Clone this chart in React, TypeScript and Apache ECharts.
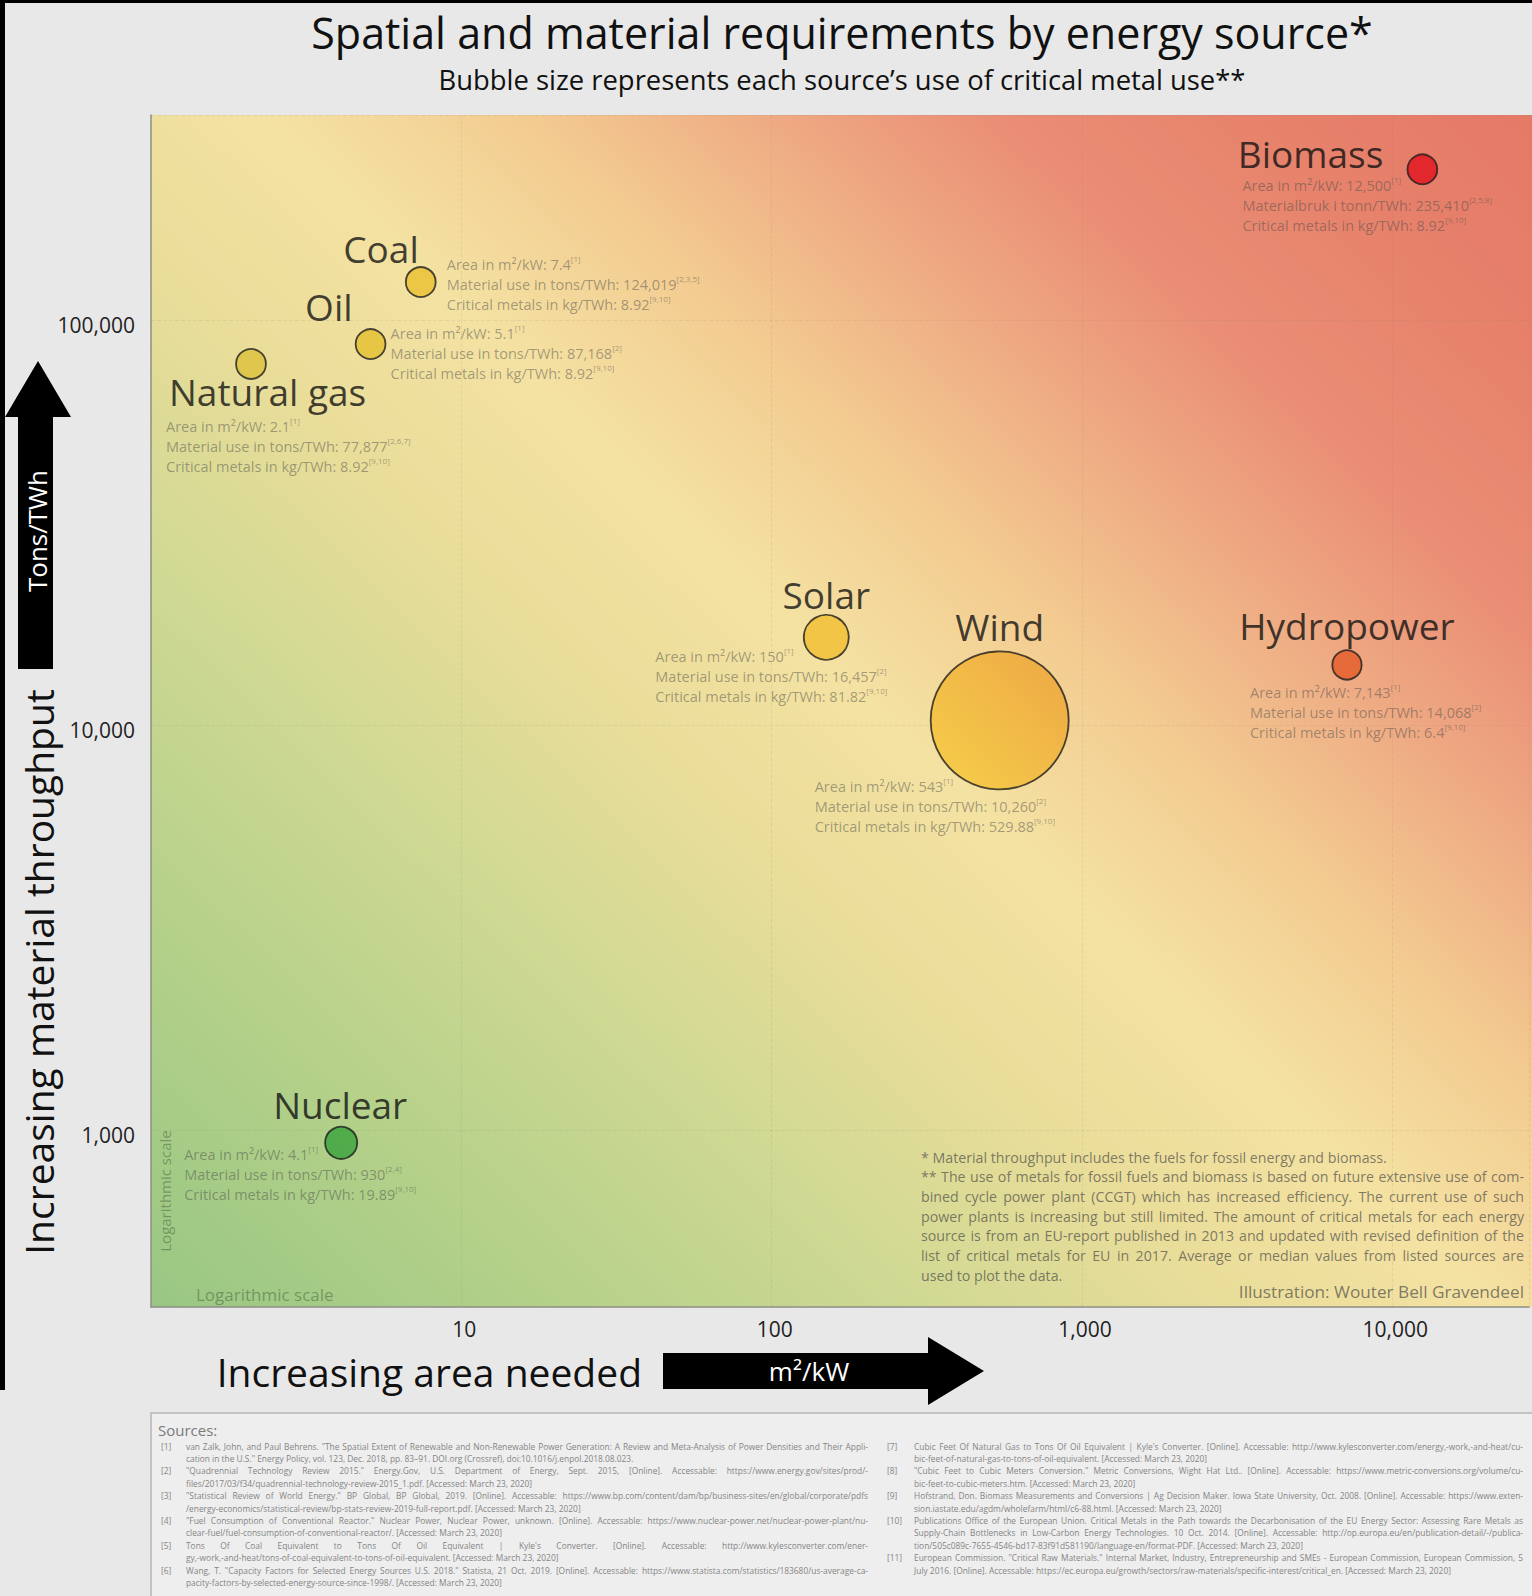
import React, { useEffect, useRef } from 'react';
import * as echarts from 'echarts';

// ---------------- data ----------------
const sourceNames = ['Biomass', 'Coal', 'Oil', 'Natural gas', 'Nuclear', 'Solar', 'Wind', 'Hydropower'];
const areaM2PerKW = [12500, 7.4, 5.1, 2.1, 4.1, 150, 543, 7143];
const materialTonsPerTWh = [235410, 124019, 87168, 77877, 930, 16457, 10260, 14068];
const criticalMetalsKgPerTWh = [8.92, 8.92, 8.92, 8.92, 19.89, 81.82, 529.88, 6.4];
const areaRefs = ['[1]', '[1]', '[1]', '[1]', '[1]', '[1]', '[1]', '[1]'];
const materialRefs = ['[2,5,8]', '[2,3,5]', '[2]', '[2,6,7]', '[2,4]', '[2]', '[2]', '[2]'];
const metalRefs = ['[9,10]', '[9,10]', '[9,10]', '[9,10]', '[9,10]', '[9,10]', '[9,10]', '[9,10]'];
const materialCaptions = [
  'Materialbruk i tonn/TWh', 'Material use in tons/TWh', 'Material use in tons/TWh', 'Material use in tons/TWh',
  'Material use in tons/TWh', 'Material use in tons/TWh', 'Material use in tons/TWh', 'Material use in tons/TWh',
];

const xTickValues = [10, 100, 1000, 10000];
const yTickValues = [1000, 10000, 100000];

const footnoteLines = [
  '* Material throughput includes the fuels for fossil energy and biomass.',
  '** The use of metals for fossil fuels and biomass is based on future extensive use of com-',
  'bined cycle power plant (CCGT) which has increased efficiency. The current use of such',
  'power plants is increasing but still limited. The amount of critical metals for each energy',
  'source is from an EU-report published in 2013 and updated with revised definition of the',
  'list of critical metals for EU in 2017. Average or median values from listed sources are',
  'used to plot the data.',
];
const footnoteJustified = [false, true, true, true, true, true, false];

const sourcesLeft: [string, string[]][] = [
  ['[1]', ['van Zalk, John, and Paul Behrens. "The Spatial Extent of Renewable and Non-Renewable Power Generation: A Review and Meta-Analysis of Power Densities and Their Appli-',
    'cation in the U.S." Energy Policy, vol. 123, Dec. 2018, pp. 83–91. DOI.org (Crossref), doi:10.1016/j.enpol.2018.08.023.']],
  ['[2]', ['"Quadrennial Technology Review 2015." Energy.Gov, U.S. Department of Energy, Sept. 2015, [Online]. Accessable: https://www.energy.gov/sites/prod/-',
    'files/2017/03/f34/quadrennial-technology-review-2015_1.pdf. [Accessed: March 23, 2020]']],
  ['[3]', ['"Statistical Review of World Energy." BP Global, BP Global, 2019. [Online]. Accessable: https://www.bp.com/content/dam/bp/business-sites/en/global/corporate/pdfs',
    '/energy-economics/statistical-review/bp-stats-review-2019-full-report.pdf. [Accessed: March 23, 2020]']],
  ['[4]', ['"Fuel Consumption of Conventional Reactor." Nuclear Power, Nuclear Power, unknown. [Online]. Accessable: https://www.nuclear-power.net/nuclear-power-plant/nu-',
    'clear-fuel/fuel-consumption-of-conventional-reactor/. [Accessed: March 23, 2020]']],
  ['[5]', ['Tons Of Coal Equivalent to Tons Of Oil Equivalent | Kyle\'s Converter. [Online]. Accessable: http://www.kylesconverter.com/ener-',
    'gy,-work,-and-heat/tons-of-coal-equivalent-to-tons-of-oil-equivalent. [Accessed: March 23, 2020]']],
  ['[6]', ['Wang, T. "Capacity Factors for Selected Energy Sources U.S. 2018." Statista, 21 Oct. 2019. [Online]. Accessable: https://www.statista.com/statistics/183680/us-average-ca-',
    'pacity-factors-by-selected-energy-source-since-1998/. [Accessed: March 23, 2020]']],
];
const sourcesRight: [string, string[]][] = [
  ['[7]', ['Cubic Feet Of Natural Gas to Tons Of Oil Equivalent | Kyle\'s Converter. [Online]. Accessable: http://www.kylesconverter.com/energy,-work,-and-heat/cu-',
    'bic-feet-of-natural-gas-to-tons-of-oil-equivalent. [Accessed: March 23, 2020]']],
  ['[8]', ['"Cubic Feet to Cubic Meters Conversion." Metric Conversions, Wight Hat Ltd.. [Online]. Accessable: https://www.metric-conversions.org/volume/cu-',
    'bic-feet-to-cubic-meters.htm. [Accessed: March 23, 2020]']],
  ['[9]', ['Hofstrand, Don. Biomass Measurements and Conversions | Ag Decision Maker. Iowa State University, Oct. 2008. [Online]. Accessable: https://www.exten-',
    'sion.iastate.edu/agdm/wholefarm/html/c6-88.html. [Accessed: March 23, 2020]']],
  ['[10]', ['Publications Office of the European Union. Critical Metals in the Path towards the Decarbonisation of the EU Energy Sector: Assessing Rare Metals as',
    'Supply-Chain Bottlenecks in Low-Carbon Energy Technologies. 10 Oct. 2014. [Online]. Accessable: http://op.europa.eu/en/publication-detail/-/publica-',
    'tion/505c089c-7655-4546-bd17-83f91d581190/language-en/format-PDF. [Accessed: March 23, 2020]']],
  ['[11]', ['European Commission. "Critical Raw Materials." Internal Market, Industry, Entrepreneurship and SMEs - European Commission, European Commission, 5',
    'July 2016. [Online]. Accessable: https://ec.europa.eu/growth/sectors/raw-materials/specific-interest/critical_en. [Accessed: March 23, 2020]']],
];

// ---------------- layout / style ----------------
const W = 1532;
const H = 1596;
const FONT = "'Open Sans', 'Noto Sans', 'DejaVu Sans', sans-serif";
const PAGE_BG = '#e8e8e8';
const PLOT = { left: 151, top: 115, right: 1532, bottom: 1307 };
const X_MIN = 1;
const X_MAX = Math.pow(10, 4.4405);
const Y_MIN = Math.pow(10, 2.563);
const Y_MAX = Math.pow(10, 5.506);
const INFO_COLOR = 'rgba(75,75,75,0.62)';
const NOTE_COLOR = 'rgba(70,70,70,0.68)';

const bubbleStyle: Record<string, any> = {
  Biomass: { color: '#e1121e' },
  Coal: { color: '#e9c12e' },
  Oil: { color: '#e5bf2f' },
  'Natural gas': { color: '#dcc03a' },
  Nuclear: { color: '#38a23b' },
  Solar: { color: '#f2be2f' },
  Wind: {
    color: new echarts.graphic.LinearGradient(0, 1, 1, 0, [
      { offset: 0, color: '#f6c933' },
      { offset: 1, color: '#ec9e32' },
    ]),
  },
  Hydropower: { color: '#e35a28' },
};

const labelLayout: Record<string, any> = {
  Biomass: { name: { dx: -39, dy: -16, align: 'right' }, info: { dx: -180, dy: 6 } },
  Coal: { name: { dx: -2, dy: -34, align: 'right' }, info: { dx: 26, dy: -28 } },
  Oil: { name: { dx: -18, dy: -38, align: 'right' }, info: { dx: 20, dy: -21 } },
  'Natural gas': { name: { dx: -82, dy: 28, align: 'left' }, info: { dx: -85, dy: 53 } },
  Nuclear: { name: { dx: -1, dy: -38, align: 'center' }, info: { dx: -157, dy: 2 } },
  Solar: { name: { dx: 0, dy: -43, align: 'center' }, info: { dx: -171, dy: 9 } },
  Wind: { name: { dx: 0, dy: -94, align: 'center' }, info: { dx: -185, dy: 56 } },
  Hydropower: { name: { dx: 0, dy: -39, align: 'center' }, info: { dx: -97, dy: 18 } },
};

const fmt = (v: number) => v.toLocaleString('en-US', { maximumFractionDigits: 2 });

const infoText = (i: number) =>
  [
    `{t|Area in m²/kW: ${fmt(areaM2PerKW[i])}}{s|${areaRefs[i]}}`,
    `{t|${materialCaptions[i]}: ${fmt(materialTonsPerTWh[i])}}{s|${materialRefs[i]}}`,
    `{t|Critical metals in kg/TWh: ${fmt(criticalMetalsKgPerTWh[i])}}{s|${metalRefs[i]}}`,
  ].join('\n');

const isTick = (v: number, ticks: number[]) => ticks.some((t) => Math.abs(v - t) / t < 1e-6);

let measureCtx: CanvasRenderingContext2D | null = null;
function measure(text: string, size: number) {
  if (!measureCtx) measureCtx = document.createElement('canvas').getContext('2d');
  if (!measureCtx) return text.length * size * 0.5;
  measureCtx.font = `${size}px ${FONT}`;
  return measureCtx.measureText(text).width;
}

function txt(text: string, x: number, y: number, o: any = {}) {
  const align = o.align || 'left';
  const va = o.va || 'middle';
  return {
    type: 'text',
    x,
    y,
    rotation: o.rotation || 0,
    z: o.z ?? 20,
    silent: true,
    style: {
      text,
      fill: o.fill || '#111',
      fontSize: o.size || 14,
      fontFamily: FONT,
      fontWeight: o.weight || 'normal',
      align,
      verticalAlign: va,
      textAlign: align,
      textVerticalAlign: va,
      lineHeight: o.lh,
    },
  };
}

// justified line: each word placed so the line spans the given width
function justified(line: string, x: number, y: number, width: number, o: any, justify: boolean) {
  const words = line.split(' ');
  if (!justify || words.length < 2) return [txt(line, x, y, o)];
  const widths = words.map((w) => measure(w, o.size));
  const total = widths.reduce((a, b) => a + b, 0);
  const gap = (width - total) / (words.length - 1);
  if (gap < 0) return [txt(line, x, y, o)];
  const out: any[] = [];
  let cx = x;
  words.forEach((w, k) => {
    out.push(txt(w, cx, y, o));
    cx += widths[k] + gap;
  });
  return out;
}

function buildGraphics() {
  const g: any[] = [];
  // plot background gradient
  g.push({
    type: 'rect',
    z: -100,
    silent: true,
    shape: { x: PLOT.left, y: PLOT.top, width: PLOT.right - PLOT.left, height: PLOT.bottom - PLOT.top },
    style: {
      fill: new echarts.graphic.LinearGradient(0, 1, 1.044, 0.066, [
        { offset: 0, color: '#98c783' },
        { offset: 0.15, color: '#b3d089' },
        { offset: 0.3, color: '#d0d993' },
        { offset: 0.42, color: '#eadd9a' },
        { offset: 0.52, color: '#f4e2a2' },
        { offset: 0.62, color: '#f3cb91' },
        { offset: 0.72, color: '#eea882' },
        { offset: 0.8, color: '#ea8e75' },
        { offset: 0.9, color: '#e7826b' },
        { offset: 1, color: '#e57a67' },
      ]),
    },
  });
  // frame strips
  g.push({ type: 'rect', z: 30, silent: true, shape: { x: 0, y: 0, width: W, height: 3 }, style: { fill: '#000' } });
  g.push({ type: 'rect', z: 30, silent: true, shape: { x: 0, y: 0, width: 5, height: 1390 }, style: { fill: '#000' } });

  // titles
  g.push(txt('Spatial and material requirements by energy source*', 842, 32, { size: 43, align: 'center' }));
  g.push(txt('Bubble size represents each source’s use of critical metal use**', 842, 79, { size: 27.4, align: 'center' }));

  // y arrow + titles
  g.push({
    type: 'polygon', z: 20, silent: true,
    shape: { points: [[18, 669], [18, 417], [5, 417], [38, 361], [71, 417], [53, 417], [53, 669]] },
    style: { fill: '#000' },
  });
  g.push(txt('Tons/TWh', 37, 531, { size: 26, align: 'center', fill: '#fff', rotation: Math.PI / 2 }));
  g.push(txt('Increasing material throughput', 38, 972, { size: 39, align: 'center', rotation: Math.PI / 2 }));

  // x arrow + titles
  g.push({
    type: 'polygon', z: 20, silent: true,
    shape: { points: [[663, 1353], [928, 1353], [928, 1337], [984, 1371], [928, 1405], [928, 1389], [663, 1389]] },
    style: { fill: '#000' },
  });
  g.push(txt('m²/kW', 809, 1371, { size: 26, align: 'center', fill: '#fff' }));
  g.push(txt('Increasing area needed', 642, 1371, { size: 39, align: 'right' }));

  // logarithmic scale notes
  const logColor = 'rgba(60,80,50,0.45)';
  g.push(txt('Logarithmic scale', 196, 1294, { size: 17, fill: logColor }));
  g.push(txt('Logarithmic scale', 165, 1191, { size: 15, fill: logColor, align: 'center', rotation: Math.PI / 2 }));

  // footnotes (justified block)
  const noteOpt = { size: 14.2, fill: NOTE_COLOR };
  footnoteLines.forEach((ln, i) => {
    g.push(...justified(ln, 921, 1157 + i * 19.7, 1524 - 921, noteOpt, footnoteJustified[i]));
  });
  g.push(txt('Illustration: Wouter Bell Gravendeel', 1524, 1291, { size: 17.2, fill: NOTE_COLOR, align: 'right' }));

  // sources box
  g.push({
    type: 'rect', z: 5, silent: true,
    shape: { x: 151, y: 1413, width: W - 151 + 2, height: H - 1413 + 2 },
    style: { fill: '#eeeeee', stroke: '#c3c3c3', lineWidth: 2 },
  });
  g.push(txt('Sources:', 158, 1430, { size: 15, fill: '#7a7a7a' }));
  const srcOpt = { size: 8.4, fill: '#858585' };
  const lh = 12.4;
  const drawCol = (list: [string, string[]][], numX: number, textX: number, width: number) => {
    let row = 0;
    list.forEach(([num, lines]) => {
      g.push(txt(num, numX, 1446 + row * lh, srcOpt));
      lines.forEach((ln, k) => {
        g.push(...justified(ln, textX, 1446 + row * lh, width, srcOpt, k < lines.length - 1));
        row += 1;
      });
    });
  };
  drawCol(sourcesLeft, 161, 186, 868 - 186);
  drawCol(sourcesRight, 887, 914, 1523 - 914);
  return g;
}

function buildOption() {
  const bubbleData = sourceNames.map((n, i) => {
    const L = labelLayout[n].name;
    return {
      name: n,
      value: [areaM2PerKW[i], materialTonsPerTWh[i], criticalMetalsKgPerTWh[i]],
      itemStyle: { color: bubbleStyle[n].color, borderColor: '#1d1d1d', borderWidth: 1.8 },
      label: { offset: [L.dx, L.dy], align: L.align },
    };
  });
  const infoData = sourceNames.map((n, i) => {
    const L = labelLayout[n].info;
    return {
      name: n,
      value: [areaM2PerKW[i], materialTonsPerTWh[i], criticalMetalsKgPerTWh[i]],
      label: { offset: [L.dx, L.dy], formatter: () => infoText(i) },
    };
  });

  return {
    animation: false,
    backgroundColor: PAGE_BG,
    textStyle: { fontFamily: FONT },
    grid: {
      left: PLOT.left,
      top: PLOT.top,
      right: W - PLOT.right,
      bottom: H - PLOT.bottom,
      containLabel: false,
    },
    xAxis: {
      type: 'log',
      logBase: 10,
      min: X_MIN,
      max: X_MAX,
      axisLine: { show: true, lineStyle: { color: '#8f8f86', width: 1.5 } },
      axisTick: { show: false },
      axisLabel: {
        fontSize: 21,
        color: '#222',
        fontFamily: FONT,
        margin: 11,
        padding: [0, 0, 0, 6],
        formatter: (v: number) => (isTick(v, xTickValues) ? fmt(v) : ''),
      },
      splitLine: { show: true, lineStyle: { color: 'rgba(120,120,120,0.13)', type: 'dashed' } },
    },
    yAxis: {
      type: 'log',
      logBase: 10,
      min: Y_MIN,
      max: Y_MAX,
      axisLine: { show: true, lineStyle: { color: '#8f8f86', width: 1.5 } },
      axisTick: { show: false },
      axisLabel: {
        fontSize: 21,
        color: '#222',
        fontFamily: FONT,
        margin: 16,
        verticalAlign: 'top',
        lineHeight: 10,
        formatter: (v: number) => (isTick(v, yTickValues) ? fmt(v) : ''),
      },
      splitLine: { show: true, lineStyle: { color: 'rgba(120,120,120,0.13)', type: 'dashed' } },
    },
    series: [
      {
        type: 'scatter',
        name: 'bubbles',
        z: 3,
        symbolSize: (val: number[]) => 28 + 0.2076 * val[2],
        emphasis: { disabled: true },
        label: {
          show: true,
          position: 'inside',
          formatter: '{b}',
          fontSize: 37,
          lineHeight: 36,
          color: '#111',
          fontFamily: FONT,
          verticalAlign: 'middle',
        },
        data: bubbleData,
      },
      {
        type: 'scatter',
        name: 'info',
        z: 4,
        symbolSize: 1,
        silent: true,
        itemStyle: { color: 'rgba(0,0,0,0)' },
        emphasis: { disabled: true },
        label: {
          show: true,
          position: 'inside',
          align: 'left',
          verticalAlign: 'top',
          rich: {
            t: { fontSize: 14.5, lineHeight: 20, color: INFO_COLOR, fontFamily: FONT },
            s: { fontSize: 8, lineHeight: 12, color: INFO_COLOR, fontFamily: FONT, verticalAlign: 'top' },
          },
        },
        data: infoData,
      },
    ],
    graphic: { elements: buildGraphics() },
  };
}

export default function App() {
  const ref = useRef<HTMLDivElement>(null);
  useEffect(() => {
    document.body.style.margin = '0';
    document.body.style.background = PAGE_BG;
    const chart = echarts.init(ref.current!, undefined, { renderer: 'svg', width: W, height: H });
    chart.setOption(buildOption() as any);
    return () => chart.dispose();
  }, []);
  return <div ref={ref} style={{ width: W, height: H, background: PAGE_BG, overflow: 'hidden' }} />;
}
